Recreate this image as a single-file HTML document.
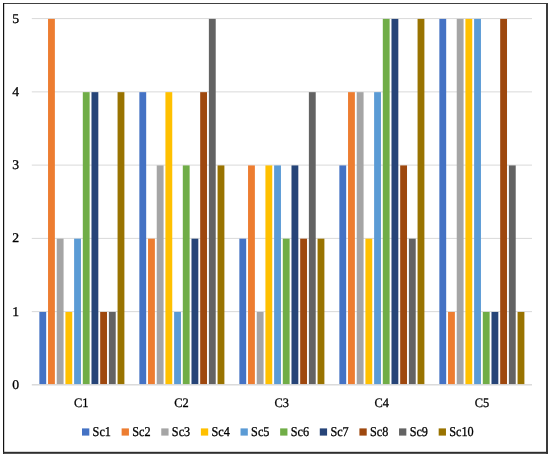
<!DOCTYPE html>
<html><head><meta charset="utf-8"><title>Chart</title>
<style>
html,body{margin:0;padding:0;background:#fff;}
body{width:550px;height:456px;overflow:hidden;}
svg{display:block;}
text{font-family:"Liberation Serif","DejaVu Serif",serif;fill:#000;text-rendering:geometricPrecision;stroke:#000;stroke-width:0.3px;}
</style></head><body>
<svg width="550" height="456" viewBox="0 0 550 456">
<rect x="0" y="0" width="550" height="456" fill="#fff"/>
<rect x="3" y="3" width="545" height="1" fill="#404040"/>
<rect x="3" y="3" width="1.2" height="450.8" fill="#111"/>
<rect x="546" y="3" width="2" height="450.8" fill="#3a3a3a"/>
<rect x="3" y="451.8" width="545" height="2" fill="#2e2e2e"/>
<line x1="31.8" x2="532.0" y1="311.64" y2="311.64" stroke="#D9D9D9" stroke-width="1"/>
<line x1="31.8" x2="532.0" y1="238.38" y2="238.38" stroke="#D9D9D9" stroke-width="1"/>
<line x1="31.8" x2="532.0" y1="165.12" y2="165.12" stroke="#D9D9D9" stroke-width="1"/>
<line x1="31.8" x2="532.0" y1="91.86" y2="91.86" stroke="#D9D9D9" stroke-width="1"/>
<line x1="31.8" x2="532.0" y1="18.60" y2="18.60" stroke="#D9D9D9" stroke-width="1"/>
<rect x="39.35" y="311.94" width="6.84" height="72.26" fill="#4472C4"/>
<rect x="48.04" y="18.90" width="6.84" height="365.30" fill="#ED7D31"/>
<rect x="56.73" y="238.68" width="6.84" height="145.52" fill="#A5A5A5"/>
<rect x="65.42" y="311.94" width="6.84" height="72.26" fill="#FFC000"/>
<rect x="74.11" y="238.68" width="6.84" height="145.52" fill="#5B9BD5"/>
<rect x="82.80" y="92.16" width="6.84" height="292.04" fill="#70AD47"/>
<rect x="91.49" y="92.16" width="6.84" height="292.04" fill="#264478"/>
<rect x="100.18" y="311.94" width="6.84" height="72.26" fill="#9E480E"/>
<rect x="108.87" y="311.94" width="6.84" height="72.26" fill="#636363"/>
<rect x="117.56" y="92.16" width="6.84" height="292.04" fill="#997300"/>
<rect x="139.35" y="92.16" width="6.84" height="292.04" fill="#4472C4"/>
<rect x="148.04" y="238.68" width="6.84" height="145.52" fill="#ED7D31"/>
<rect x="156.73" y="165.42" width="6.84" height="218.78" fill="#A5A5A5"/>
<rect x="165.42" y="92.16" width="6.84" height="292.04" fill="#FFC000"/>
<rect x="174.11" y="311.94" width="6.84" height="72.26" fill="#5B9BD5"/>
<rect x="182.80" y="165.42" width="6.84" height="218.78" fill="#70AD47"/>
<rect x="191.49" y="238.68" width="6.84" height="145.52" fill="#264478"/>
<rect x="200.18" y="92.16" width="6.84" height="292.04" fill="#9E480E"/>
<rect x="208.87" y="18.90" width="6.84" height="365.30" fill="#636363"/>
<rect x="217.56" y="165.42" width="6.84" height="218.78" fill="#997300"/>
<rect x="239.35" y="238.68" width="6.84" height="145.52" fill="#4472C4"/>
<rect x="248.04" y="165.42" width="6.84" height="218.78" fill="#ED7D31"/>
<rect x="256.73" y="311.94" width="6.84" height="72.26" fill="#A5A5A5"/>
<rect x="265.42" y="165.42" width="6.84" height="218.78" fill="#FFC000"/>
<rect x="274.11" y="165.42" width="6.84" height="218.78" fill="#5B9BD5"/>
<rect x="282.80" y="238.68" width="6.84" height="145.52" fill="#70AD47"/>
<rect x="291.49" y="165.42" width="6.84" height="218.78" fill="#264478"/>
<rect x="300.18" y="238.68" width="6.84" height="145.52" fill="#9E480E"/>
<rect x="308.87" y="92.16" width="6.84" height="292.04" fill="#636363"/>
<rect x="317.56" y="238.68" width="6.84" height="145.52" fill="#997300"/>
<rect x="339.35" y="165.42" width="6.84" height="218.78" fill="#4472C4"/>
<rect x="348.04" y="92.16" width="6.84" height="292.04" fill="#ED7D31"/>
<rect x="356.73" y="92.16" width="6.84" height="292.04" fill="#A5A5A5"/>
<rect x="365.42" y="238.68" width="6.84" height="145.52" fill="#FFC000"/>
<rect x="374.11" y="92.16" width="6.84" height="292.04" fill="#5B9BD5"/>
<rect x="382.80" y="18.90" width="6.84" height="365.30" fill="#70AD47"/>
<rect x="391.49" y="18.90" width="6.84" height="365.30" fill="#264478"/>
<rect x="400.18" y="165.42" width="6.84" height="218.78" fill="#9E480E"/>
<rect x="408.87" y="238.68" width="6.84" height="145.52" fill="#636363"/>
<rect x="417.56" y="18.90" width="6.84" height="365.30" fill="#997300"/>
<rect x="439.35" y="18.90" width="6.84" height="365.30" fill="#4472C4"/>
<rect x="448.04" y="311.94" width="6.84" height="72.26" fill="#ED7D31"/>
<rect x="456.73" y="18.90" width="6.84" height="365.30" fill="#A5A5A5"/>
<rect x="465.42" y="18.90" width="6.84" height="365.30" fill="#FFC000"/>
<rect x="474.11" y="18.90" width="6.84" height="365.30" fill="#5B9BD5"/>
<rect x="482.80" y="311.94" width="6.84" height="72.26" fill="#70AD47"/>
<rect x="491.49" y="311.94" width="6.84" height="72.26" fill="#264478"/>
<rect x="500.18" y="18.90" width="6.84" height="365.30" fill="#9E480E"/>
<rect x="508.87" y="165.42" width="6.84" height="218.78" fill="#636363"/>
<rect x="517.56" y="311.94" width="6.84" height="72.26" fill="#997300"/>
<rect x="31.8" y="384.3" width="500.2" height="1.1" fill="#CCCCCC"/>
<text transform="translate(15.8,388.95) scale(1.03,1)" font-size="13.3" text-anchor="middle">0</text>
<text transform="translate(15.8,315.69) scale(1.03,1)" font-size="13.3" text-anchor="middle">1</text>
<text transform="translate(15.8,242.43) scale(1.03,1)" font-size="13.3" text-anchor="middle">2</text>
<text transform="translate(15.8,169.17) scale(1.03,1)" font-size="13.3" text-anchor="middle">3</text>
<text transform="translate(15.8,95.91) scale(1.03,1)" font-size="13.3" text-anchor="middle">4</text>
<text transform="translate(15.8,22.65) scale(1.03,1)" font-size="13.3" text-anchor="middle">5</text>
<text transform="translate(81.25,407.3) scale(0.95,1)" font-size="13" text-anchor="middle">C1</text>
<text transform="translate(181.43,407.3) scale(0.95,1)" font-size="13" text-anchor="middle">C2</text>
<text transform="translate(281.61,407.3) scale(0.95,1)" font-size="13" text-anchor="middle">C3</text>
<text transform="translate(381.79,407.3) scale(0.95,1)" font-size="13" text-anchor="middle">C4</text>
<text transform="translate(481.97,407.3) scale(0.95,1)" font-size="13" text-anchor="middle">C5</text>
<rect x="82.00" y="428.4" width="7.3" height="7.2" fill="#4472C4"/>
<text transform="translate(92.60,435.9) scale(0.905,1)" font-size="13.5">Sc1</text>
<rect x="121.63" y="428.4" width="7.3" height="7.2" fill="#ED7D31"/>
<text transform="translate(132.23,435.9) scale(0.905,1)" font-size="13.5">Sc2</text>
<rect x="161.26" y="428.4" width="7.3" height="7.2" fill="#A5A5A5"/>
<text transform="translate(171.86,435.9) scale(0.905,1)" font-size="13.5">Sc3</text>
<rect x="200.89" y="428.4" width="7.3" height="7.2" fill="#FFC000"/>
<text transform="translate(211.49,435.9) scale(0.905,1)" font-size="13.5">Sc4</text>
<rect x="240.52" y="428.4" width="7.3" height="7.2" fill="#5B9BD5"/>
<text transform="translate(251.12,435.9) scale(0.905,1)" font-size="13.5">Sc5</text>
<rect x="280.15" y="428.4" width="7.3" height="7.2" fill="#70AD47"/>
<text transform="translate(290.75,435.9) scale(0.905,1)" font-size="13.5">Sc6</text>
<rect x="319.78" y="428.4" width="7.3" height="7.2" fill="#264478"/>
<text transform="translate(330.38,435.9) scale(0.905,1)" font-size="13.5">Sc7</text>
<rect x="359.41" y="428.4" width="7.3" height="7.2" fill="#9E480E"/>
<text transform="translate(370.01,435.9) scale(0.905,1)" font-size="13.5">Sc8</text>
<rect x="399.04" y="428.4" width="7.3" height="7.2" fill="#636363"/>
<text transform="translate(409.64,435.9) scale(0.905,1)" font-size="13.5">Sc9</text>
<rect x="438.67" y="428.4" width="7.3" height="7.2" fill="#997300"/>
<text transform="translate(449.27,435.9) scale(0.905,1)" font-size="13.5">Sc10</text>
</svg>
</body></html>
